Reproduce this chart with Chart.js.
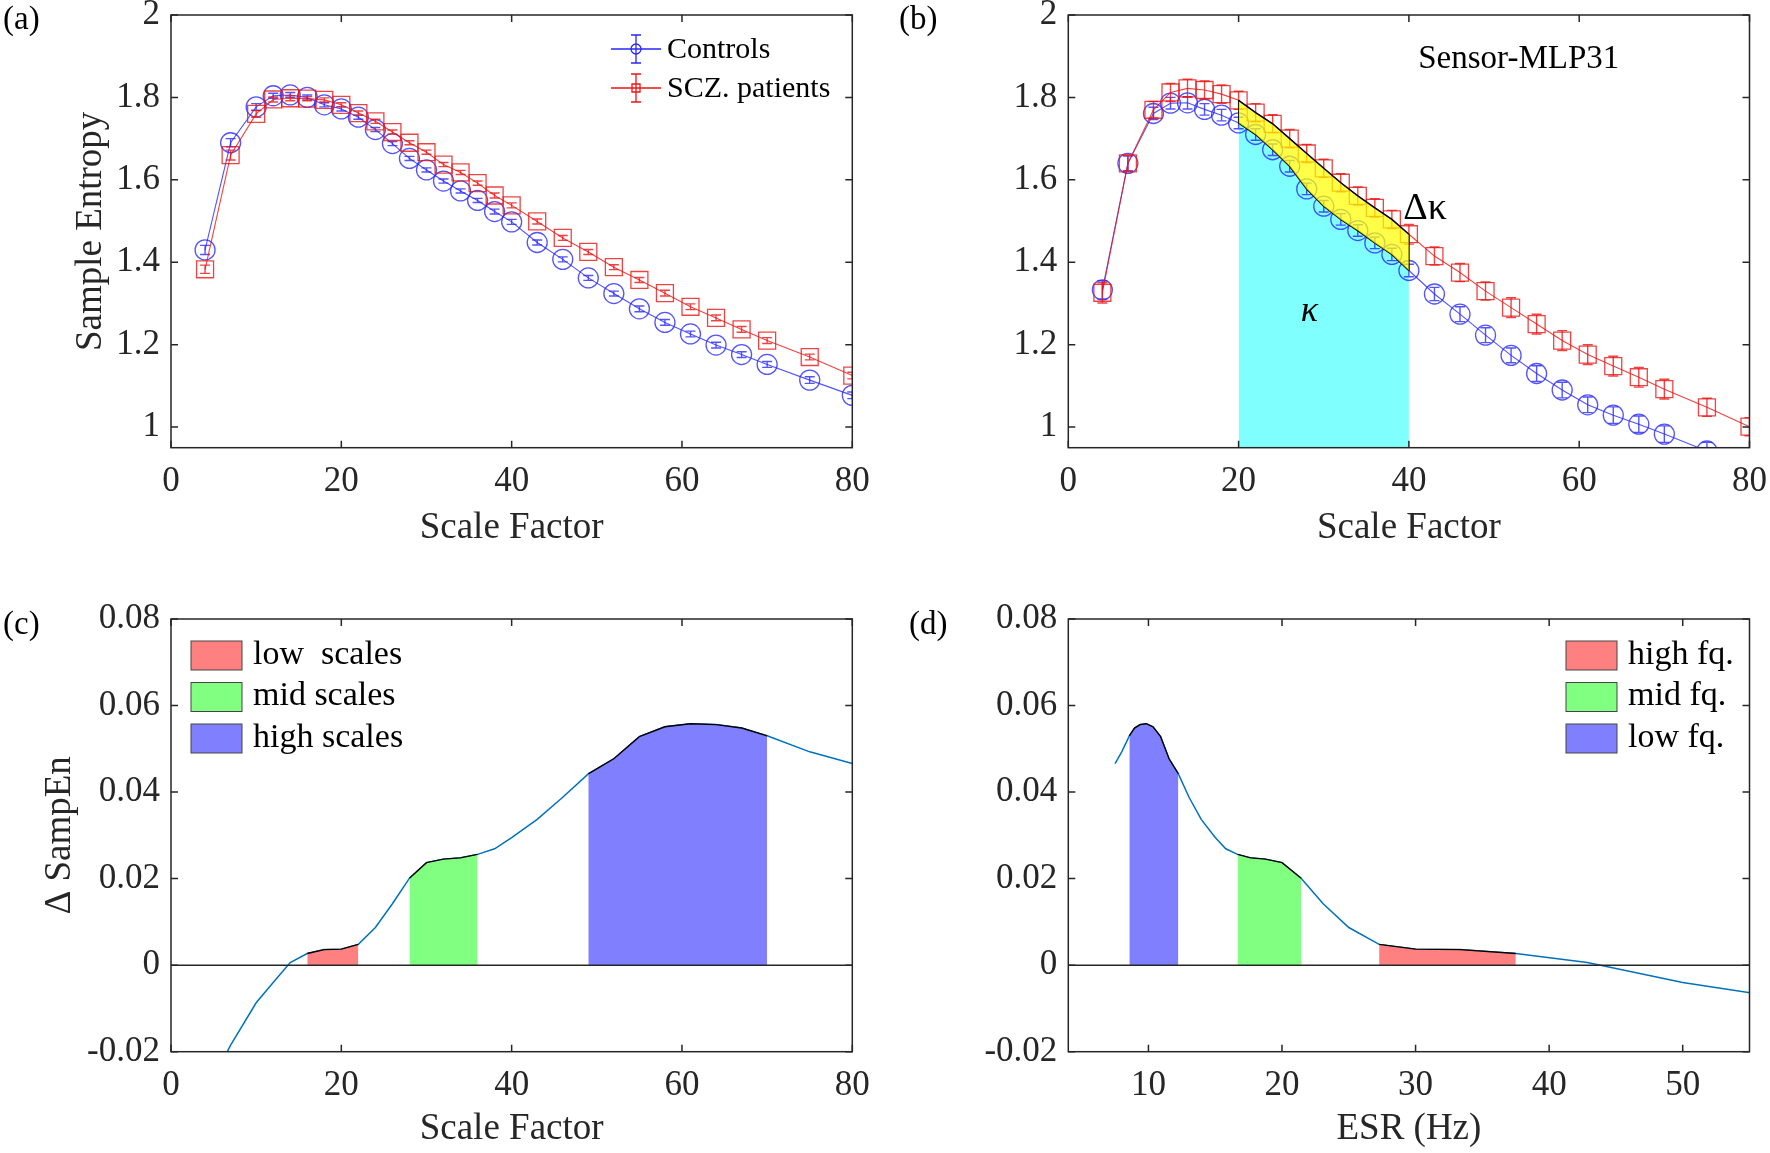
<!DOCTYPE html>
<html>
<head>
<meta charset="utf-8">
<title>Multiscale sample entropy</title>
<script src="https://cdn.jsdelivr.net/npm/chart.js@4.4.1/dist/chart.umd.min.js"></script>
<style>
  html, body { margin: 0; padding: 0; background: #fff; }
  #fig { position: relative; width: 1770px; height: 1153px; }
  canvas { position: absolute; }
</style>
</head>
<body>
<div id="fig">
  <canvas id="panelA" width="885" height="576" style="left:0;top:0"></canvas>
  <canvas id="panelB" width="885" height="576" style="left:885px;top:0"></canvas>
  <canvas id="panelC" width="885" height="577" style="left:0;top:576px"></canvas>
  <canvas id="panelD" width="885" height="577" style="left:885px;top:576px"></canvas>
</div>
<script>
// ---- data ----
const scaleFactor = [4, 7, 10, 12, 14, 16, 18, 20, 22, 24, 26, 28, 30, 32, 34, 36, 38, 40, 43, 46, 49, 52, 55, 58, 61, 64, 67, 70, 75, 80];
const esrHz = [150, 85.71, 60, 50, 42.86, 37.5, 33.33, 30, 27.27, 25, 23.08, 21.43, 20, 18.75, 17.65, 16.67, 15.79, 15, 13.95, 13.04, 12.24, 11.54, 10.91, 10.34, 9.84, 9.38, 8.96, 8.57, 8, 7.5];

// (a) sample entropy, all sensors
const controlsA = [1.430, 1.690, 1.777, 1.804, 1.806, 1.800, 1.782, 1.772, 1.752, 1.722, 1.688, 1.652, 1.624, 1.597, 1.573, 1.550, 1.523, 1.498, 1.448, 1.407, 1.362, 1.324, 1.287, 1.254, 1.226, 1.199, 1.176, 1.152, 1.114, 1.077];
const patientsA = [1.383, 1.660, 1.760, 1.795, 1.798, 1.797, 1.794, 1.782, 1.762, 1.742, 1.716, 1.690, 1.667, 1.637, 1.618, 1.592, 1.562, 1.538, 1.499, 1.459, 1.425, 1.388, 1.357, 1.325, 1.292, 1.265, 1.237, 1.210, 1.170, 1.125];
const controlsErrA = [0.011, 0.010, 0.008, 0.006, 0.006, 0.006, 0.005, 0.005, 0.005, 0.005, 0.005, 0.005, 0.005, 0.005, 0.005, 0.005, 0.006, 0.006, 0.006, 0.006, 0.006, 0.006, 0.007, 0.007, 0.007, 0.007, 0.007, 0.007, 0.008, 0.008];
const patientsErrA = [0.010, 0.012, 0.008, 0.006, 0.006, 0.005, 0.005, 0.005, 0.005, 0.005, 0.005, 0.005, 0.005, 0.005, 0.005, 0.005, 0.006, 0.006, 0.006, 0.006, 0.006, 0.006, 0.006, 0.007, 0.007, 0.007, 0.007, 0.007, 0.007, 0.008];

// (b) sensor MLP31
const controlsB = [1.333, 1.640, 1.761, 1.786, 1.787, 1.771, 1.757, 1.738, 1.710, 1.673, 1.633, 1.578, 1.536, 1.504, 1.477, 1.447, 1.419, 1.380, 1.323, 1.274, 1.223, 1.174, 1.130, 1.090, 1.054, 1.029, 1.007, 0.983, 0.942, 0.905];
const patientsB = [1.326, 1.640, 1.770, 1.812, 1.822, 1.818, 1.808, 1.793, 1.763, 1.736, 1.700, 1.664, 1.628, 1.593, 1.561, 1.532, 1.504, 1.468, 1.415, 1.375, 1.330, 1.290, 1.250, 1.210, 1.176, 1.148, 1.121, 1.092, 1.048, 1.001];
const controlsErrB = [0.022, 0.018, 0.015, 0.014, 0.015, 0.014, 0.014, 0.014, 0.014, 0.014, 0.014, 0.014, 0.014, 0.014, 0.014, 0.014, 0.015, 0.015, 0.016, 0.018, 0.018, 0.018, 0.019, 0.019, 0.019, 0.020, 0.020, 0.020, 0.021, 0.021];
const patientsErrB = [0.025, 0.020, 0.020, 0.022, 0.022, 0.022, 0.022, 0.022, 0.022, 0.022, 0.022, 0.022, 0.022, 0.022, 0.022, 0.022, 0.022, 0.024, 0.022, 0.022, 0.022, 0.024, 0.024, 0.024, 0.024, 0.024, 0.024, 0.024, 0.022, 0.022];
const kappaRange = [20, 40];

// (c)/(d) difference in sample entropy
const deltaSampEn = [-0.030, -0.0185, -0.0087, -0.0040, 0.0006, 0.0027, 0.0036, 0.0037, 0.0048, 0.0087, 0.0142, 0.0201, 0.0237, 0.0245, 0.0248, 0.0256, 0.0269, 0.0295, 0.0337, 0.0388, 0.0442, 0.0477, 0.0528, 0.0551, 0.0558, 0.0556, 0.0548, 0.0530, 0.0493, 0.0466];
const lowScales = [16, 22];
const midScales = [28, 36];
const highScales = [49, 70];

// tick labels
const entropyTicks = [1, 1.2, 1.4, 1.6, 1.8, 2];
const scaleTicks = [0, 20, 40, 60, 80];
const deltaTicks = [-0.02, 0, 0.02, 0.04, 0.06, 0.08];
const esrTicks = [10, 20, 30, 40, 50];

// ---- helpers ----
const FONT = '"Liberation Serif", "Times New Roman", serif';
const INK = '#262626';
const LINE_BLUE = 'rgb(0,114,189)';
const FILL_RED = 'rgb(255,128,128)';
const FILL_GREEN = 'rgb(128,255,128)';
const FILL_BLUE = 'rgb(128,128,255)';

function pts(xs, ys) {
  return xs.map((x, i) => ({ x: x, y: ys[i] })).sort((a, b) => a.x - b.x);
}
// points whose scale factor lies inside range
function region(xs, ys, range) {
  return scaleFactor
    .map((s, i) => ({ s: s, x: xs[i], y: ys[i] }))
    .filter(p => p.s >= range[0] && p.s <= range[1])
    .map(p => ({ x: p.x, y: p.y }))
    .sort((a, b) => a.x - b.x);
}
function valueAt(ys, s) { return ys[scaleFactor.indexOf(s)]; }

function axes(o) {
  return {
    x: {
      type: 'linear', min: o.xMin, max: o.xMax,
      afterBuildTicks: s => { s.ticks = o.xTicks.map(v => ({ value: v })); },
      afterFit: s => { s.height = o.xHeight; s.paddingLeft = 0; s.paddingRight = 0; },
      grid: { display: false, drawTicks: false },
      border: { display: false },
      ticks: { font: { family: FONT, size: 35 }, color: INK, padding: 13, maxRotation: 0, autoSkip: false, callback: v => String(v) },
      title: { display: true, text: o.xTitle, font: { family: FONT, size: 37 }, color: INK, padding: { top: 0, bottom: o.xTitlePad } }
    },
    y: {
      type: 'linear', min: o.yMin, max: o.yMax,
      afterBuildTicks: s => { s.ticks = o.yTicks.map(v => ({ value: v })); },
      afterFit: s => { s.width = o.yWidth; s.paddingTop = 0; s.paddingBottom = 0; },
      grid: { display: false, drawTicks: false },
      border: { display: false },
      ticks: { font: { family: FONT, size: 35 }, color: INK, padding: 11, autoSkip: false, callback: v => String(v) },
      title: { display: !!o.yTitle, text: o.yTitle || '', font: { family: FONT, size: 37 }, color: INK, padding: { top: o.yTitlePad || 0, bottom: 0 } }
    }
  };
}

// MATLAB-like box with inward ticks on all four sides
const frame = {
  id: 'frame',
  afterDatasetsDraw(chart, args, opts) {
    const { ctx, chartArea: a, scales: { x, y } } = chart;
    ctx.save();
    ctx.strokeStyle = INK;
    ctx.lineWidth = 1.5;
    if (opts.zeroLine) {
      const y0 = y.getPixelForValue(0);
      ctx.beginPath(); ctx.moveTo(a.left, y0); ctx.lineTo(a.right, y0); ctx.stroke();
    }
    ctx.strokeRect(a.left, a.top, a.width, a.height);
    const t = 7;
    ctx.beginPath();
    x.ticks.forEach(tk => {
      const px = x.getPixelForValue(tk.value);
      ctx.moveTo(px, a.bottom); ctx.lineTo(px, a.bottom - t);
      ctx.moveTo(px, a.top); ctx.lineTo(px, a.top + t);
    });
    y.ticks.forEach(tk => {
      const py = y.getPixelForValue(tk.value);
      ctx.moveTo(a.left, py); ctx.lineTo(a.left + t, py);
      ctx.moveTo(a.right, py); ctx.lineTo(a.right - t, py);
    });
    ctx.stroke();
    ctx.restore();
  }
};

// vertical error bars with caps, drawn right after their own dataset
const errorBars = {
  id: 'errorBars',
  afterDatasetDraw(chart, args) {
    const ds = chart.data.datasets[args.index];
    if (!ds.errorBars) return;
    const { ctx, chartArea: a, scales: { y } } = chart;
    ctx.save();
    ctx.beginPath(); ctx.rect(a.left, a.top, a.width, a.height); ctx.clip();
    ctx.strokeStyle = ds.pointBorderColor;
    ctx.lineWidth = 1.4;
    ctx.beginPath();
    args.meta.data.forEach((pt, i) => {
      const d = ds.data[i];
      const top = y.getPixelForValue(d.y + ds.errorBars[i]);
      const bot = y.getPixelForValue(d.y - ds.errorBars[i]);
      ctx.moveTo(pt.x, top); ctx.lineTo(pt.x, bot);
      ctx.moveTo(pt.x - 5, top); ctx.lineTo(pt.x + 5, top);
      ctx.moveTo(pt.x - 5, bot); ctx.lineTo(pt.x + 5, bot);
    });
    ctx.stroke();
    ctx.restore();
  }
};

// free text: panel letters, annotations
const notes = {
  id: 'notes',
  afterDraw(chart, args, opts) {
    const { ctx, scales: { x, y } } = chart;
    (opts.items || []).forEach(it => {
      const px = it.data ? x.getPixelForValue(it.x) : it.x;
      const py = it.data ? y.getPixelForValue(it.y) : it.y;
      ctx.save();
      ctx.font = (it.italic ? 'italic ' : '') + it.size + 'px ' + FONT;
      ctx.fillStyle = '#000';
      ctx.textAlign = it.align || 'left';
      ctx.textBaseline = 'middle';
      ctx.fillText(it.text, px, py);
      ctx.restore();
    });
  }
};

Chart.register(frame, errorBars, notes);

function baseOptions(axesCfg, extra) {
  return {
    responsive: false,
    animation: false,
    events: [],
    layout: { padding: extra.padding },
    scales: axesCfg,
    plugins: Object.assign({ legend: { display: false }, tooltip: { enabled: false } }, extra.plugins)
  };
}

function seriesDataset(label, data, err, color, style, order) {
  return {
    label: label, data: data, errorBars: err,
    borderColor: color, borderWidth: 1.1,
    pointStyle: style, pointRadius: style === 'rect' ? 12 : 10,
    pointBorderColor: color, pointBackgroundColor: 'rgba(0,0,0,0)', pointBorderWidth: 1.3,
    fill: false, tension: 0, order: order
  };
}

// legend with error-bar markers for (a)
const markerLegend = {
  id: 'markerLegend',
  afterDraw(chart) {
    const ctx = chart.ctx;
    const rows = [
      { text: 'Controls', color: 'rgb(40,40,255)', style: 'circle', y: 49 },
      { text: 'SCZ. patients', color: 'rgb(235,20,20)', style: 'rect', y: 88 }
    ];
    rows.forEach(r => {
      ctx.save();
      ctx.strokeStyle = r.color; ctx.lineWidth = 1.3;
      ctx.beginPath();
      ctx.moveTo(611, r.y); ctx.lineTo(661, r.y);
      ctx.moveTo(636, r.y - 14); ctx.lineTo(636, r.y + 14);
      ctx.moveTo(631, r.y - 14); ctx.lineTo(641, r.y - 14);
      ctx.moveTo(631, r.y + 14); ctx.lineTo(641, r.y + 14);
      ctx.stroke();
      ctx.beginPath();
      if (r.style === 'circle') ctx.arc(636, r.y, 5, 0, Math.PI * 2);
      else ctx.rect(632, r.y - 4, 8, 8);
      ctx.stroke();
      ctx.font = '30px ' + FONT;
      ctx.fillStyle = '#000';
      ctx.textBaseline = 'middle';
      ctx.fillText(r.text, 667, r.y + 1);
      ctx.restore();
    });
  }
};

// legend with filled boxes for (c)/(d)
function boxLegend(rows, boxX) {
  return {
    id: 'boxLegend',
    afterDraw(chart) {
      const ctx = chart.ctx;
      rows.forEach((r, i) => {
        const top = 65 + i * 41.5;
        ctx.save();
        ctx.fillStyle = r.color;
        ctx.fillRect(boxX, top, 51, 29);
        ctx.strokeStyle = '#444'; ctx.lineWidth = 1;
        ctx.strokeRect(boxX, top, 51, 29);
        ctx.font = '34px ' + FONT;
        ctx.fillStyle = '#000';
        ctx.textBaseline = 'middle';
        ctx.fillText(r.text, boxX + 62, top + 14);
        ctx.restore();
      });
    }
  };
}

// ---- (a) ----
new Chart(document.getElementById('panelA'), {
  type: 'line',
  data: {
    datasets: [
      seriesDataset('Controls', pts(scaleFactor, controlsA), controlsErrA, 'rgba(40,40,255,0.8)', 'circle', 10),
      seriesDataset('SCZ. patients', pts(scaleFactor, patientsA), patientsErrA, 'rgba(235,20,20,0.8)', 'rect', 9)
    ]
  },
  options: baseOptions(
    axes({ xMin: 0, xMax: 80, xTicks: scaleTicks, xTitle: 'Scale Factor', xHeight: 128.3, xTitlePad: 25.8,
           yMin: 0.95, yMax: 2, yTicks: entropyTicks, yTitle: 'Sample Entropy', yWidth: 171, yTitlePad: 68.8 }),
    { padding: { left: 0, right: 32.7, top: 15, bottom: 0 },
      plugins: { notes: { items: [{ text: '(a)', x: 3, y: 20, size: 33 }] } } }
  ),
  plugins: [markerLegend]
});

// ---- (b) ----
new Chart(document.getElementById('panelB'), {
  type: 'line',
  data: {
    datasets: [
      { label: 'kappa', data: region(scaleFactor, controlsB, kappaRange), fill: 'start',
        backgroundColor: 'rgb(128,255,255)', borderWidth: 0, pointRadius: 0, order: 30 },
      seriesDataset('Controls', pts(scaleFactor, controlsB), controlsErrB, 'rgba(40,40,255,0.8)', 'circle', 10),
      seriesDataset('SCZ. patients', pts(scaleFactor, patientsB), patientsErrB, 'rgba(235,20,20,0.8)', 'rect', 9),
      { label: 'delta base', data: region(scaleFactor, controlsB, kappaRange), fill: false,
        borderColor: '#000', borderWidth: 1.5, pointRadius: 0, order: 2 },
      { label: 'delta kappa', data: region(scaleFactor, patientsB, kappaRange), fill: 3,
        backgroundColor: 'rgba(255,255,0,0.72)', borderColor: '#000', borderWidth: 1.5, pointRadius: 0, order: 1 },
      { label: 'edge lo', data: [{ x: kappaRange[0], y: valueAt(controlsB, kappaRange[0]) }, { x: kappaRange[0], y: valueAt(patientsB, kappaRange[0]) }],
        borderColor: '#000', borderWidth: 1.2, pointRadius: 0, fill: false, order: 1 },
      { label: 'edge hi', data: [{ x: kappaRange[1], y: valueAt(controlsB, kappaRange[1]) }, { x: kappaRange[1], y: valueAt(patientsB, kappaRange[1]) }],
        borderColor: '#000', borderWidth: 1.5, pointRadius: 0, fill: false, order: 1 }
    ]
  },
  options: baseOptions(
    axes({ xMin: 0, xMax: 80, xTicks: scaleTicks, xTitle: 'Scale Factor', xHeight: 128.3, xTitlePad: 25.8,
           yMin: 0.95, yMax: 2, yTicks: entropyTicks, yWidth: 183.3 }),
    { padding: { left: 0, right: 20.5, top: 15, bottom: 0 },
      plugins: { notes: { items: [
        { text: '(b)', x: 14, y: 20, size: 33 },
        { text: 'Sensor-MLP31', x: 52.9, y: 1.893, size: 33, align: 'center', data: true },
        { text: '\u0394\u03BA', x: 41.9, y: 1.530, size: 38, align: 'center', data: true },
        { text: '\u03BA', x: 28.3, y: 1.280, size: 36, align: 'center', italic: true, data: true }
      ] } } }
  )
});

// ---- (c) ----
new Chart(document.getElementById('panelC'), {
  type: 'line',
  data: {
    datasets: [
      { label: 'delta', data: pts(scaleFactor, deltaSampEn), borderColor: LINE_BLUE, borderWidth: 1.5, pointRadius: 0, fill: false, order: 10 },
      { label: 'low scales', data: region(scaleFactor, deltaSampEn, lowScales), fill: 'origin', backgroundColor: FILL_RED, borderColor: '#000', borderWidth: 1.4, pointRadius: 0, order: 1 },
      { label: 'mid scales', data: region(scaleFactor, deltaSampEn, midScales), fill: 'origin', backgroundColor: FILL_GREEN, borderColor: '#000', borderWidth: 1.4, pointRadius: 0, order: 1 },
      { label: 'high scales', data: region(scaleFactor, deltaSampEn, highScales), fill: 'origin', backgroundColor: FILL_BLUE, borderColor: '#000', borderWidth: 1.4, pointRadius: 0, order: 1 }
    ]
  },
  options: baseOptions(
    axes({ xMin: 0, xMax: 80, xTicks: scaleTicks, xTitle: 'Scale Factor', xHeight: 101.3, xTitlePad: 1.8,
           yMin: -0.02, yMax: 0.08, yTicks: deltaTicks, yTitle: '\u0394 SampEn', yWidth: 171, yTitlePad: 37.8 }),
    { padding: { left: 0, right: 32.7, top: 43, bottom: 0 },
      plugins: { frame: { zeroLine: true }, notes: { items: [{ text: '(c)', x: 3, y: 49, size: 33 }] } } }
  ),
  plugins: [boxLegend([
    { text: 'low  scales', color: FILL_RED },
    { text: 'mid scales', color: FILL_GREEN },
    { text: 'high scales', color: FILL_BLUE }
  ], 191)]
});

// ---- (d) ----
new Chart(document.getElementById('panelD'), {
  type: 'line',
  data: {
    datasets: [
      { label: 'delta', data: pts(esrHz, deltaSampEn), borderColor: LINE_BLUE, borderWidth: 1.5, pointRadius: 0, fill: false, order: 10 },
      { label: 'high fq.', data: region(esrHz, deltaSampEn, lowScales), fill: 'origin', backgroundColor: FILL_RED, borderColor: '#000', borderWidth: 1.4, pointRadius: 0, order: 1 },
      { label: 'mid fq.', data: region(esrHz, deltaSampEn, midScales), fill: 'origin', backgroundColor: FILL_GREEN, borderColor: '#000', borderWidth: 1.4, pointRadius: 0, order: 1 },
      { label: 'low fq.', data: region(esrHz, deltaSampEn, highScales), fill: 'origin', backgroundColor: FILL_BLUE, borderColor: '#000', borderWidth: 1.4, pointRadius: 0, order: 1 }
    ]
  },
  options: baseOptions(
    axes({ xMin: 4, xMax: 55, xTicks: esrTicks, xTitle: 'ESR (Hz)', xHeight: 101.3, xTitlePad: 1.8,
           yMin: -0.02, yMax: 0.08, yTicks: deltaTicks, yWidth: 183.3 }),
    { padding: { left: 0, right: 20.5, top: 43, bottom: 0 },
      plugins: { frame: { zeroLine: true }, notes: { items: [{ text: '(d)', x: 24, y: 49, size: 33 }] } } }
  ),
  plugins: [boxLegend([
    { text: 'high fq.', color: FILL_RED },
    { text: 'mid fq.', color: FILL_GREEN },
    { text: 'low fq.', color: FILL_BLUE }
  ], 681)]
});
</script>
</body>
</html>
